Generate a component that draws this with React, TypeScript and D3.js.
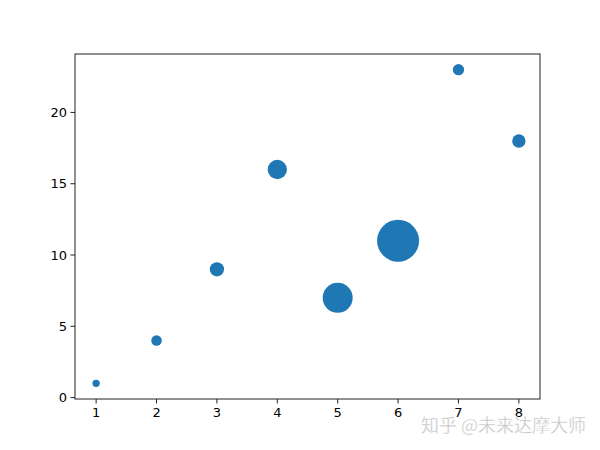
import * as d3 from "d3";

const xValues = [1, 2, 3, 4, 5, 6, 7, 8];
const yValues = [1, 4, 9, 16, 7, 11, 23, 18];
const sizes = [32, 65, 120, 220, 530, 1040, 75, 105];
const xTicks = [1, 2, 3, 4, 5, 6, 7, 8];
const yTicks = [0, 5, 10, 15, 20];
const watermark = "知乎 @未来达摩大师";

const width = 600;
const height = 450;
const margin = { top: 54, right: 60, bottom: 51, left: 75 };

export default function App() {
  const innerWidth = width - margin.left - margin.right;
  const innerHeight = height - margin.top - margin.bottom;

  const xScale = d3.scaleLinear().domain([0.65, 8.35]).range([0, innerWidth]);
  const yScale = d3.scaleLinear().domain([-0.1, 24.1]).range([innerHeight, 0]);
  // marker area (pt^2) -> radius in px
  const rScale = d3.scaleSqrt().domain([0, 1000]).range([0, 20.6]);

  const points = xValues.map((x, i) => ({ x, y: yValues[i], s: sizes[i] }));
  const font = "'DejaVu Sans', sans-serif";

  return (
    <svg
      width={width}
      height={height}
      style={{ position: "absolute", left: 0, top: 0, background: "#fff" }}
    >
      <g transform={`translate(${margin.left},${margin.top})`}>
        {points.map((p, i) => (
          <circle
            key={i}
            cx={xScale(p.x)}
            cy={yScale(p.y)}
            r={rScale(p.s)}
            fill="#1f77b4"
          />
        ))}

        <rect
          x={0}
          y={0}
          width={innerWidth}
          height={innerHeight}
          fill="none"
          stroke="#222"
          strokeWidth={1}
        />

        {xTicks.map((t) => {
          const x = xScale(t);
          return (
            <g key={`x-${t}`}>
              <line x1={x} x2={x} y1={innerHeight} y2={innerHeight + 4.5} stroke="#222" />
              <text
                x={x}
                y={innerHeight + 18}
                fontSize={13}
                fontFamily={font}
                textAnchor="middle"
                fill="#000"
              >
                {t}
              </text>
            </g>
          );
        })}

        {yTicks.map((t) => {
          const y = yScale(t);
          return (
            <g key={`y-${t}`}>
              <line x1={-4.5} x2={0} y1={y} y2={y} stroke="#222" />
              <text
                x={-8}
                y={y + 4.7}
                fontSize={13}
                fontFamily={font}
                textAnchor="end"
                fill="#000"
              >
                {t}
              </text>
            </g>
          );
        })}
      </g>

      {/* watermark sits over the last tick labels, as in the source image */}
      <text
        x={586}
        y={432}
        fontSize={18}
        fontFamily="'Noto Sans CJK SC', sans-serif"
        textAnchor="end"
        fill="#c4c4c4"
        stroke="#fff"
        strokeWidth={0.3}
      >
        {watermark}
      </text>
    </svg>
  );
}
